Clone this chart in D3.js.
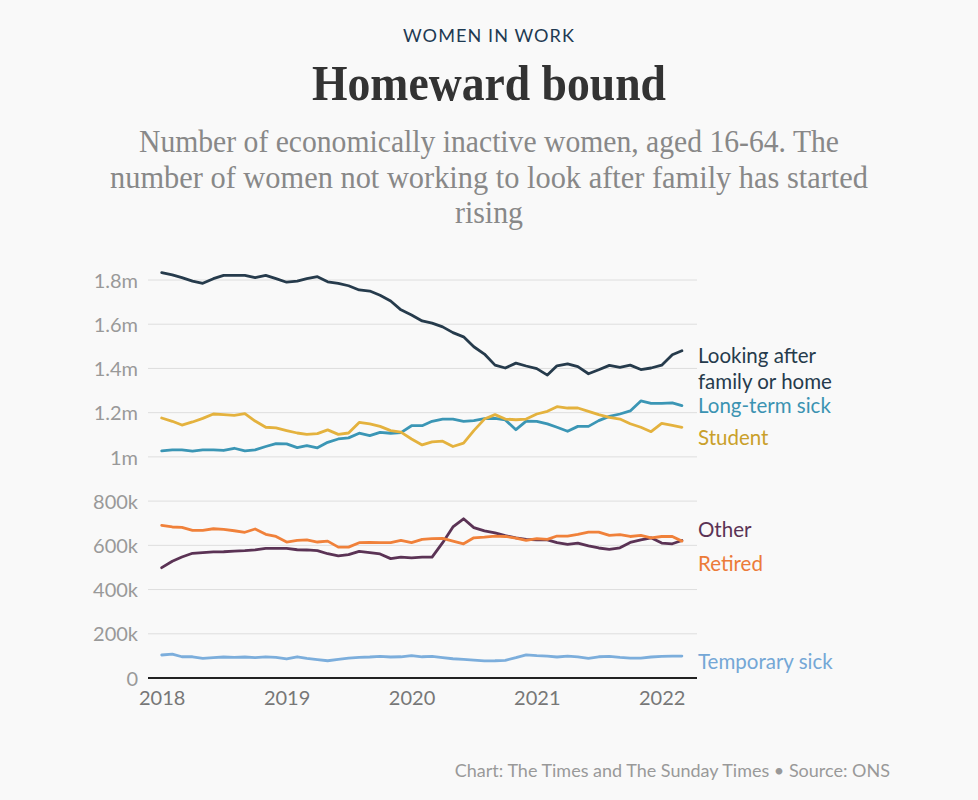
<!DOCTYPE html>
<html>
<head>
<meta charset="utf-8">
<script src="https://cdn.jsdelivr.net/npm/d3@7"></script>
<style>
  html, body { margin: 0; padding: 0; background: #f9f9f9; }
  svg { display: block; }
</style>
</head>
<body>
<svg id="chart" width="978" height="800"></svg>
<script>
// ---- data (thousands of women, monthly rolling estimates, Jan 2018 – Mar 2022) ----
const startYear = 2018;
const yearTicks = [2018, 2019, 2020, 2021, 2022];
const yTickValues = [0, 200, 400, 600, 800, 1000, 1200, 1400, 1600, 1800];

const family = [1833,1823,1811,1795,1785,1806,1821,1821,1821,1811,1821,1806,1790,1795,1806,1815,1792,1785,1774,1755,1750,1731,1705,1665,1642,1615,1605,1588,1562,1543,1498,1465,1415,1402,1424,1411,1399,1370,1412,1421,1408,1376,1394,1414,1405,1415,1395,1402,1415,1462,1480];
const longTermSick = [1027,1032,1032,1026,1032,1032,1029,1039,1027,1032,1047,1060,1059,1042,1051,1041,1066,1081,1086,1107,1096,1111,1107,1110,1141,1141,1161,1171,1171,1161,1164,1173,1174,1167,1123,1162,1161,1149,1134,1116,1138,1138,1164,1183,1194,1208,1253,1242,1242,1244,1232];
const student = [1176,1161,1144,1158,1174,1194,1191,1188,1196,1162,1134,1131,1119,1108,1102,1105,1122,1102,1108,1156,1149,1138,1119,1112,1081,1054,1068,1071,1047,1062,1119,1171,1191,1171,1168,1171,1194,1206,1227,1221,1221,1206,1191,1179,1171,1150,1134,1114,1152,1143,1134];
const other = [499,528,547,564,567,570,571,574,576,579,586,586,586,580,579,576,562,552,558,573,567,561,540,547,543,547,547,612,683,720,680,665,656,644,634,627,625,625,612,604,610,598,588,582,589,613,625,634,610,607,622];
const retired = [690,683,681,668,668,675,672,666,659,674,650,640,615,622,625,615,619,592,592,612,613,612,612,622,612,627,630,631,619,607,634,637,642,640,633,622,630,627,642,642,650,660,660,645,648,640,645,634,640,640,619];
const temporarySick = [104,108,96,96,89,92,95,93,95,92,96,93,86,96,89,83,78,84,90,93,95,98,95,96,101,96,98,92,87,84,81,77,78,80,92,105,101,99,95,99,96,89,96,98,93,90,90,95,98,99,99];

const seriesNames = ["Looking after family or home", "Long-term sick", "Student", "Other", "Retired", "Temporary sick"];
const seriesValues = [family, longTermSick, student, other, retired, temporarySick];
const lineColors = ["#263b4c", "#3b96b5", "#e4b23e", "#5b3355", "#f0813a", "#7caedc"];
const labelColors = ["#263b4c", "#3b93b2", "#c9a02a", "#5b3355", "#ec7b38", "#74a7d6"];
const labelLines = [["Looking after", "family or home"], ["Long-term sick"], ["Student"], ["Other"], ["Retired"], ["Temporary sick"]];
const labelY = [363, 413, 445, 537, 571, 669];

// ---- layout ----
const svg = d3.select("#chart");
const W = 978;
const sans = "Lato, 'Open Sans', sans-serif";
const serif = "'Liberation Serif', 'Times New Roman', serif";

svg.append("rect").attr("width", W).attr("height", 800).attr("fill", "#f9f9f9");

// header
svg.append("text").attr("x", W / 2).attr("y", 42).attr("text-anchor", "middle")
  .attr("font-family", sans).attr("font-size", 17).attr("letter-spacing", 1)
  .attr("fill", "#1e3a52").attr("textLength", 172).attr("lengthAdjust", "spacingAndGlyphs")
  .text("WOMEN IN WORK");

svg.append("text").attr("x", W / 2).attr("y", 100).attr("text-anchor", "middle")
  .attr("font-family", serif).attr("font-weight", "bold").attr("font-size", 51)
  .attr("fill", "#333").attr("textLength", 354).attr("lengthAdjust", "spacingAndGlyphs")
  .text("Homeward bound");

const subtitle = [
  {t: "Number of economically inactive women, aged 16-64. The", y: 152, w: 700},
  {t: "number of women not working to look after family has started", y: 188, w: 758},
  {t: "rising", y: 223, w: 68}
];
subtitle.forEach(s => {
  svg.append("text").attr("x", W / 2).attr("y", s.y).attr("text-anchor", "middle")
    .attr("font-family", serif).attr("font-size", 31).attr("fill", "#888")
    .attr("textLength", s.w).attr("lengthAdjust", "spacingAndGlyphs")
    .text(s.t);
});

// scales
const months = d3.range(family.length).map(i => new Date(startYear, i, 1));
const x = d3.scaleTime()
  .domain([new Date(2018, 0, 1), new Date(2022, 0, 1)])
  .range([161.7, 661.7]);
const y = d3.scaleLinear().domain([0, 1800]).range([678, 280]);

const gridLeft = 148, gridRight = 697;

// gridlines
svg.append("g").selectAll("line").data(yTickValues.filter(v => v > 0)).join("line")
  .attr("x1", gridLeft).attr("x2", gridRight)
  .attr("y1", d => y(d)).attr("y2", d => y(d))
  .attr("stroke", "#dedede").attr("stroke-width", 1);

// y axis labels
const fmt = v => v === 0 ? "0" : (v >= 1000 ? (v / 1000) + "m" : v + "k");
const yAxis = d3.axisLeft(y).tickValues(yTickValues).tickFormat(fmt).tickSize(0).tickPadding(0);
const gy = svg.append("g").attr("transform", "translate(138,0)").call(yAxis);
gy.select(".domain").remove();
gy.selectAll("text").attr("font-family", sans).attr("font-size", 20).attr("fill", "#999").attr("dy", "0.36em");

// x axis
const xAxis = d3.axisBottom(x)
  .tickValues(yearTicks.map(yr => new Date(yr, 0, 1)))
  .tickFormat(d3.timeFormat("%Y")).tickSize(0).tickPadding(0);
const gx = svg.append("g").attr("transform", "translate(0,678)").call(xAxis);
gx.select(".domain").remove();
gx.selectAll("text").attr("font-family", sans).attr("font-size", 20).attr("fill", "#777").attr("dy", "27");

// baseline
svg.append("line").attr("x1", gridLeft).attr("x2", gridRight).attr("y1", y(0)).attr("y2", y(0))
  .attr("stroke", "#222").attr("stroke-width", 2);

// lines
const line = d3.line().x((d, i) => x(months[i])).y(d => y(d));
svg.append("g").selectAll("path").data(seriesValues).join("path")
  .attr("d", d => line(d))
  .attr("fill", "none")
  .attr("stroke", (d, i) => lineColors[i])
  .attr("stroke-width", 2.8)
  .attr("stroke-linejoin", "round")
  .attr("stroke-linecap", "round");

// labels
seriesNames.forEach((name, i) => {
  const t = svg.append("text").attr("x", 698).attr("y", labelY[i])
    .attr("font-family", sans).attr("font-size", 20.5).attr("fill", labelColors[i]);
  labelLines[i].forEach((ln, j) => {
    t.append("tspan").attr("x", 698).attr("dy", j === 0 ? 0 : 26).text(ln);
  });
});

// footer
svg.append("text").attr("x", 890).attr("y", 777).attr("text-anchor", "end")
  .attr("font-family", sans).attr("font-size", 18).attr("fill", "#999")
  .text("Chart: The Times and The Sunday Times \u2022 Source: ONS");
</script>
</body>
</html>
